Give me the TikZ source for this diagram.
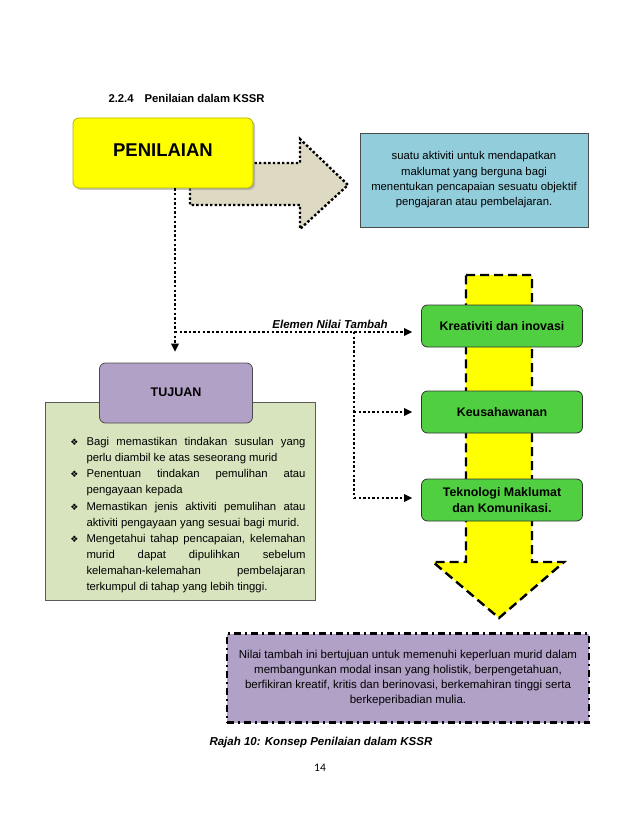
\documentclass[tikz,border=0pt]{standalone}
\usepackage{fontspec}
\setmainfont{Liberation Sans}
\newfontfamily\symfont{DejaVu Sans}
\newfontfamily\calfont{Carlito}
\usepackage{tikz}
\usetikzlibrary{arrows.meta,positioning,calc,shadows}

\definecolor{kuning}{RGB}{255,255,0}
\definecolor{krim}{RGB}{221,217,195}
\definecolor{biru}{RGB}{146,205,220}
\definecolor{hijau}{RGB}{80,208,64}
\definecolor{hijaumuda}{RGB}{215,228,189}
\definecolor{ungu}{RGB}{178,161,199}
\newcommand{\bul}{{\symfont\fontsize{9}{9}\selectfont ❖}}

\begin{document}
\begin{tikzpicture}[x=1pt, y=-1pt,
    kotak/.style={draw=black!70, thick, rounded corners=6pt, align=center},
    elemen/.style={draw=black!80, thick, rounded corners=6pt, fill=hijau, minimum width=161pt, minimum height=42pt, align=center, font=\bfseries\fontsize{12.4}{15.5}\selectfont},
    titik/.style={line width=2.4pt, dash pattern=on 2.4pt off 2.2pt},
    tarr/.style={titik, -{Triangle[length=8pt,width=8pt,line width=0pt]}, shorten >=2pt},
    teks/.style={font=\fontsize{11.3}{15.3}\selectfont, align=center}
]
\useasboundingbox (0,0) rectangle (638,826);

% tajuk
\node[anchor=west, font=\bfseries\fontsize{11.3}{13}\selectfont] (tajuk) at (105,98) {2.2.4\hspace{11pt}Penilaian dalam KSSR};

% anak panah besar ke kanan
\draw[titik, fill=krim] (190,163) -- (300,163) -- (300,139) -- (348,185) -- (300,229) -- (300,205) -- (190,205) -- cycle;

% anak panah kuning ke bawah
\draw[line width=2.4pt, dash pattern=on 9pt off 5pt, fill=kuning] (466,275) -- (532,275) -- (532,562) -- (564,562) -- (499,618) -- (433,562) -- (466,562) -- cycle;

% nod utama
\node[kotak, fill=kuning, draw=kuning!70!black, drop shadow={shadow xshift=2pt, shadow yshift=-2pt, fill=black!45}, minimum width=180pt, minimum height=70pt, font=\bfseries\fontsize{18.5}{20}\selectfont] (pen) at (163,153) {\raisebox{6pt}{PENILAIAN}};

\node[draw=black!70, thick, fill=biru, minimum width=228pt, minimum height=94pt, teks] (takrif) at (474,180)
  {suatu aktiviti untuk mendapatkan\\ maklumat yang berguna bagi\\ menentukan pencapaian sesuatu objektif\\ pengajaran atau pembelajaran.};

% elemen nilai tambah
\node[elemen] (kre) at (502,326) {Kreativiti dan inovasi};
\node[elemen] (keu) at (502,412) {Keusahawanan};
\node[elemen] (tek) at (502,500) {Teknologi Maklumat\\ dan Komunikasi.};

% tujuan
\node[draw=black!65, thick, fill=hijaumuda, minimum width=270pt, minimum height=198pt] (kotakTuj) at (180,501) {};
\node[kotak, fill=ungu, minimum width=153pt, minimum height=60pt, font=\bfseries\fontsize{12.5}{14}\selectfont] (tuj) at (176,393) {\raisebox{2pt}{TUJUAN}};
\node[anchor=north west, text width=238pt, align=justify, font=\fontsize{11.3}{16.1}\selectfont] (senarai) at (64,426) {%
  \begin{list}{\bul}{\leftmargin=19pt \labelwidth=10pt \labelsep=8pt \itemsep=0pt \parsep=0pt \topsep=0pt}
  \item Bagi memastikan tindakan susulan yang\linebreak perlu diambil ke atas seseorang murid
  \item Penentuan tindakan pemulihan atau\linebreak pengayaan kepada
  \item Memastikan jenis aktiviti pemulihan atau\linebreak aktiviti pengayaan yang sesuai bagi murid.
  \item Mengetahui tahap pencapaian, kelemahan\linebreak murid dapat dipulihkan sebelum\linebreak kelemahan-kelemahan pembelajaran\linebreak terkumpul di tahap yang lebih tinggi.
  \end{list}};

% matlamat
\node[draw, line width=2.4pt, dash pattern=on 7pt off 4pt on 2pt off 4pt, fill=ungu, minimum width=362pt, minimum height=89pt, teks, font=\fontsize{11.5}{15.3}\selectfont] (matlamat) at (408,678)
  {Nilai tambah ini bertujuan untuk memenuhi keperluan murid dalam\\ membangunkan modal insan yang holistik, berpengetahuan,\\ berfikiran kreatif, kritis dan berinovasi, berkemahiran tinggi serta\\ berkeperibadian mulia.};

% penyambung
\coordinate (c1) at (175,332);
\coordinate (c2) at (354,332);
\coordinate (c3) at (354,498);
\draw[tarr, shorten >=11pt] (pen.south -| c1) -- (tuj.north -| c1);
\draw[tarr, shorten >=9pt] (c1) -- node[above=-1pt, pos=0.63, font=\bfseries\itshape\fontsize{11.5}{12}\selectfont] (lbl) {Elemen Nilai Tambah} (c1 -| kre.west);
\draw[titik] (c2) -- (c3);
\draw[tarr, shorten >=9pt] (c2 |- keu.west) -- (keu.west);
\draw[tarr, shorten >=9pt] (c3) -- (c3 -| tek.west);

% kapsyen
\node[anchor=west, font=\bfseries\itshape\fontsize{11.5}{13}\selectfont] (kapsyen) at (206,743) {Rajah 10: Konsep Penilaian dalam KSSR};
\node[font=\calfont\fontsize{11.5}{13}\selectfont] (muka) at (320,768) {14};
\end{tikzpicture}
\end{document}
